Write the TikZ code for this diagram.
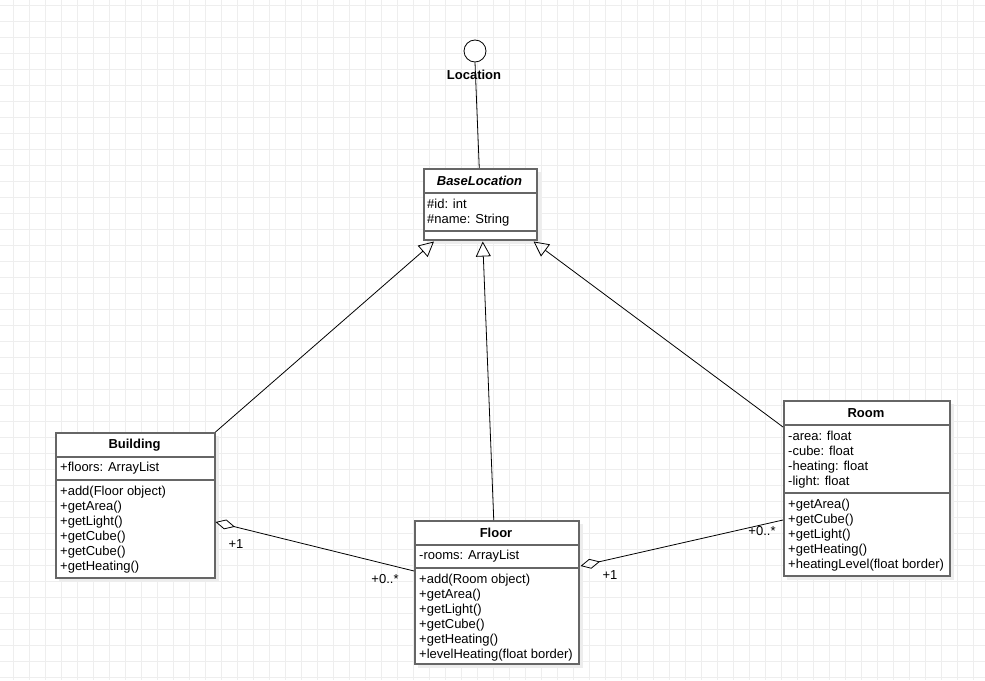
\documentclass[tikz,border=0pt]{standalone}
\usepackage{fontspec}
\setmainfont{Liberation Sans}
\usetikzlibrary{arrows.meta,calc}
\definecolor{gridc}{HTML}{EEEEEE}
\definecolor{boxc}{HTML}{666666}
\begin{document}
\begin{tikzpicture}[x=1pt,y=-1pt,
  box/.style={draw=boxc,line width=1.5pt,fill=white,anchor=north west,inner sep=0pt},
  shd/.style={fill=black!7,draw=none},
  dv/.style={draw=boxc,line width=1.5pt},
  ttl/.style={font=\fontsize{13}{15}\selectfont\bfseries,anchor=center},
  txt/.style={font=\fontsize{13}{15}\selectfont,anchor=north west,align=left,inner sep=0pt},
  lbl/.style={font=\fontsize{13}{15}\selectfont,inner sep=0pt},
  gen/.style={-{Triangle[open,length=15,width=15]},line width=0.8pt},
  agg/.style={{Diamond[open,length=20,width=10]}-,line width=0.8pt}]
\useasboundingbox (0,0) rectangle (985,680);
\fill[white] (0,0) rectangle (985,680);
\foreach \x in {13,29,...,985} \draw[gridc,line width=0.7pt] (\x,0)--(\x,680);
\foreach \y in {5,21,...,680} \draw[gridc,line width=0.7pt] (0,\y)--(985,\y);
% shadows
\fill[shd] (427,172) rectangle (541,244);
\fill[shd] (59,436) rectangle (219,582);
\fill[shd] (418,524) rectangle (583,668);
\fill[shd] (787,404) rectangle (954,580);
% interface
\node (loc) [draw=black,fill=white,circle,line width=0.8pt,minimum size=22,inner sep=0pt] at (475,51) {};
% BaseLocation
\node (base) [box,minimum width=113,minimum height=71] at (423,168) {};
\draw[dv] (423,193)--(536,193); \draw[dv] (423,231)--(536,231);
\node[ttl,font=\fontsize{13}{15}\selectfont\bfseries\itshape] (baset) at (479.5,181) {BaseLocation};
\node[txt] (basea) at (427,198.5) {\#id: int\\\#name: String};
% Building
\node (bld) [box,minimum width=159,minimum height=145] at (55,432) {};
\draw[dv] (55,457)--(214,457); \draw[dv] (55,480)--(214,480);
\node[ttl] (bldt) at (134.5,445) {Building};
\node[txt] (blda) at (60,462) {+floors: ArrayList};
\node[txt] (bldm) at (60,485.5) {+add(Floor object)\\+getArea()\\+getLight()\\+getCube()\\+getCube()\\+getHeating()};
% Floor
\node (flr) [box,minimum width=164,minimum height=143] at (414,520) {};
\draw[dv] (414,545)--(578,545); \draw[dv] (414,568)--(578,568);
\node[ttl] (flrt) at (496,533) {Floor};
\node[txt] (flra) at (419,550) {-rooms: ArrayList};
\node[txt] (flrm) at (419,573.5) {+add(Room object)\\+getArea()\\+getLight()\\+getCube()\\+getHeating()\\+levelHeating(float border)};
% Room
\node (room) [box,minimum width=166,minimum height=175] at (783,400) {};
\draw[dv] (783,425)--(949,425); \draw[dv] (783,493)--(949,493);
\node[ttl] (roomt) at (866,413) {Room};
\node[txt] (rooma) at (788,430.5) {-area: float\\-cube: float\\-heating: float\\-light: float};
\node[txt] (roomm) at (788,498.5) {+getArea()\\+getCube()\\+getLight()\\+getHeating()\\+heatingLevel(float border)};
% Location label
\node[lbl,font=\fontsize{13}{15}\selectfont\bfseries] (locl) at (474,75) {Location};
\draw[line width=0.8pt] (loc.south) -- ($(base.north)+(-1,0)$);
% generalization
\draw[gen] (bld.north east) -- ($(base.south west)+(11,1)$);
\draw[gen] ($(flr.north)+(-3,0)$) -- ($(base.south)+(2.5,1)$);
\draw[gen] ($(room.north west)+(0,27)$) -- ($(base.south east)+(-4,1)$);
% aggregation
\draw[agg] ($(bld.north east)+(0,90)$) -- ($(flr.north west)+(0,51)$);
\draw[agg] ($(flr.north east)+(1,46)$) -- ($(room.north west)+(0,120)$);
\node[lbl] (l1) at (236,544) {+1};
\node[lbl] (l2) at (385,579) {+0..*};
\node[lbl] (l3) at (610,575) {+1};
\node[lbl] (l4) at (762,531) {+0..*};
\end{tikzpicture}
\end{document}
